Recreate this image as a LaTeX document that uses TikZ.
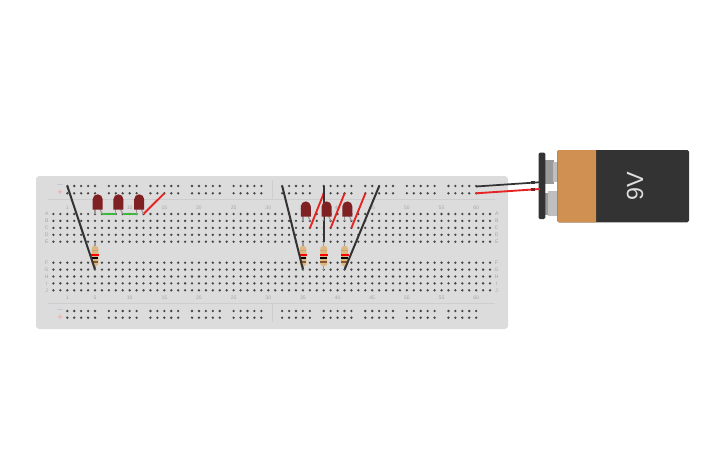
\documentclass[tikz,border=0pt]{standalone}
\usepackage{fontspec}
\setsansfont{Liberation Sans}
\definecolor{boardgrey}{HTML}{DCDCDC}
\definecolor{ruleline}{HTML}{CECECE}
\definecolor{holedark}{HTML}{444444}
\definecolor{labelgrey}{HTML}{A6A6A6}
\definecolor{wireblack}{HTML}{333333}
\definecolor{wirered}{HTML}{E62222}
\definecolor{wiregreen}{HTML}{3DB83D}
\definecolor{ledred}{HTML}{7F2022}
\definecolor{legtone}{HTML}{9A9A9A}
\definecolor{restan}{HTML}{DDB883}
\definecolor{bandbrown}{HTML}{8B5A2B}
\definecolor{battorange}{HTML}{CF9052}
\definecolor{battdark}{HTML}{333333}
\tikzset{
  hole/.style={fill=holedark,draw=none},
  wire/.style={line width=1.5pt,color=wireblack},
  redwire/.style={line width=1.4pt,color=wirered},
  greenwire/.style={line width=1.4pt,color=wiregreen},
  leg/.style={line width=.8pt,color=legtone},
  tinylabel/.style={font=\sffamily\fontsize{3.8}{4}\selectfont,text=labelgrey,inner sep=0pt},
  ledbody/.pic={
    \fill[ledred] (-5,0) -- (-5,-10.2) arc (180:360:5) -- (5,0) -- cycle;
  },
  resbody/.pic={
    \fill[restan,rounded corners=2pt] (-3.4,-10) rectangle (3.4,10);
    \fill[restan!80!bandbrown] (-3.4,-6.5) rectangle (3.4,-5);
    \fill[red] (-3.9,-2.2) rectangle (3.9,-.4);
    \fill[black] (-3.4,1.2) rectangle (3.4,3);
    \fill[bandbrown] (-3.4,5) rectangle (3.4,7);
  }
}
\begin{document}
\begin{tikzpicture}[x=.75pt,y=-.75pt]
  \useasboundingbox (0,0) rectangle (725,453);

  % board
  \fill[boardgrey,rounded corners=2.5pt] (36,176) rectangle (508,329);
  \draw[ruleline,line width=.4pt] (48,199.3) -- (495,199.3);
  \draw[ruleline,line width=.4pt] (48,303.5) -- (495,303.5);
  \draw[ruleline,line width=.4pt] (272,180) -- (272,199.3);
  \draw[ruleline,line width=.4pt] (272,303.5) -- (272,322);

  % holes
  \foreach \c in {-1,...,62} {
    \foreach \y in {214,220.9,227.9,234.8,241.7,262.7,269.6,276.5,283.4,290.3} {
      \fill[hole] ({67.3+(\c-1)*6.93},\y) circle (1.3);
    }
  }
  \foreach \g in {1,7,13,19,25,32,38,44,50,56} {
    \foreach \c in {0,...,4} {
      \foreach \y in {186,193.3,311,317.7} {
        \fill[hole] ({67.3+(\g+\c-1)*6.93},\y) circle (1.3);
      }
    }
  }

  % numbers, letters, rails
  \foreach \c in {1,5,10,15,20,25,30,35,40,45,50,55,60} {
    \node[tinylabel] (top\c) at ({67.3+(\c-1)*6.93},207.8) {\c};
    \node[tinylabel] (bot\c) at ({67.3+(\c-1)*6.93},298.2) {\c};
  }
  \foreach \l/\y in {A/214,B/220.9,C/227.9,D/234.8,E/241.7,F/262.7,G/269.6,H/276.5,I/283.4,J/290.3} {
    \node[tinylabel] (left\l) at (46.7,\y) {\l};
    \node[tinylabel] (right\l) at (496.7,\y) {\l};
  }
  \foreach \n/\y in {a/186,b/311} {
    \node[font=\sffamily\fontsize{7}{7}\selectfont,text=blue!30!gray!45,inner sep=0pt] (minus\n) at (60,\y) {--};
  }
  \foreach \n/\y in {a/193.3,b/317.7} {
    \node[font=\sffamily\fontsize{7}{7}\selectfont,text=red!40!white,inner sep=0pt] (plus\n) at (60,\y) {+};
  }

  \coordinate (A1) at (95,214);
  \coordinate (A2) at (102,214);
  \coordinate (A3) at (115.8,214);
  \coordinate (A4) at (122.7,214);
  \coordinate (A5) at (136.6,214);
  \coordinate (A6) at (143.5,214);
  \coordinate (B1) at (303,220.9);
  \coordinate (B2) at (310,220.9);
  \coordinate (B3) at (323.8,220.9);
  \coordinate (B4) at (330.7,220.9);
  \coordinate (B5) at (344.6,220.9);
  \coordinate (B6) at (351.4,220.9);
  \coordinate (C2) at (310,227.9);
  \coordinate (C4) at (330.7,227.9);
  \coordinate (C6) at (351.4,227.9);
  \coordinate (P1) at (164.3,193.3);
  \coordinate (P2) at (323.8,193.3);
  \coordinate (P3) at (344.6,193.3);
  \coordinate (P4) at (365.4,193.3);
  \coordinate (M1) at (67.3,186);
  \coordinate (M2) at (282.2,186);
  \coordinate (M3) at (323.8,186);
  \coordinate (M4) at (379.2,186);
  \coordinate (E1) at (95,241.7);
  \coordinate (E2) at (303,241.7);
  \coordinate (E3) at (323.8,241.7);
  \coordinate (E4) at (344.6,241.7);
  \coordinate (G1) at (95,269.6);
  \coordinate (G2) at (303,269.6);
  \coordinate (G3) at (323.8,269.6);
  \coordinate (G4) at (344.6,269.6);
  \coordinate (Bm) at (476,186.5);
  \coordinate (Bp) at (476,193.3);
  \coordinate (Tm) at (540,182.2);
  \coordinate (Tp) at (540,189);

  % resistors
  \foreach \i in {1,2,3,4} {
    \draw[leg] (E\i) -- (G\i);
  }
  \path (95,256) pic {resbody};
  \path (303,256) pic {resbody};
  \path (323.8,256) pic {resbody};
  \path (344.6,256) pic {resbody};

  % wires
  \draw[greenwire] (A2) -- (A3);
  \draw[greenwire] (A4) -- (A5);
  \draw[redwire] (A6) -- (P1);
  \draw[redwire] (C2) -- (P2);
  \draw[redwire] (C4) -- (P3);
  \draw[redwire] (C6) -- (P4);
  \draw[wire] (M1) -- (G1);
  \draw[wire] (M2) -- (G2);
  \draw[wire] (M3) -- (E3);
  \draw[wire] (M4) -- (G4);

  % leds
  \draw[leg] (95,209) -- (A1);
  \draw[leg] (100,209) -- (A2);
  \draw[leg] (115.8,209) -- (A3);
  \draw[leg] (120.5,209) -- (A4);
  \draw[leg] (136.6,209) -- (A5);
  \draw[leg] (141.3,209) -- (A6);
  \draw[leg] (303,216) -- (B1);
  \draw[leg] (308,216) -- (B2);
  \draw[leg] (323.8,216) -- (B3);
  \draw[leg] (328.7,216) -- (B4);
  \draw[leg] (344.6,216) -- (B5);
  \draw[leg] (349.3,216) -- (B6);
  \path (97.7,209.5) pic {ledbody};
  \path (118.4,209.5) pic {ledbody};
  \path (139.2,209.5) pic {ledbody};
  \path (305.8,216.6) pic {ledbody};
  \path (326.6,216.6) pic {ledbody};
  \path (347.4,216.6) pic {ledbody};

  % battery
  \fill[legtone] (545,160) rectangle (553.5,184.3);
  \fill[gray!50] (553.3,162) rectangle (558,182);
  \fill[legtone] (545,193.3) rectangle (549,215);
  \fill[gray!50] (548.3,191) rectangle (558,215.7);
  \fill[battdark,rounded corners=1pt] (538.5,152.7) rectangle (545.3,219);
  \fill[battdark,rounded corners=1.2pt] (557.3,150) rectangle (689,222.3);
  \fill[battorange] (596,150) -- (559,150) .. controls (557.8,150) and (557.3,150.5) .. (557.3,152) -- (557.3,220.3) .. controls (557.3,221.8) and (557.8,222.3) .. (559,222.3) -- (596,222.3) -- cycle;
  \node[font=\sffamily\fontsize{17.5}{18}\selectfont,text=gray!25,rotate=90,inner sep=0pt] (voltage) at (635,186.7) {9V};

  % leads
  \draw[wire,line width=1.3pt] (Bm) -- (Tm);
  \draw[redwire] (Bp) -- (Tp);
  \fill[battdark] (530.5,181.2) rectangle (535,184.2);
  \fill[ledred] (530.5,188) rectangle (535,191);
\end{tikzpicture}
\end{document}
